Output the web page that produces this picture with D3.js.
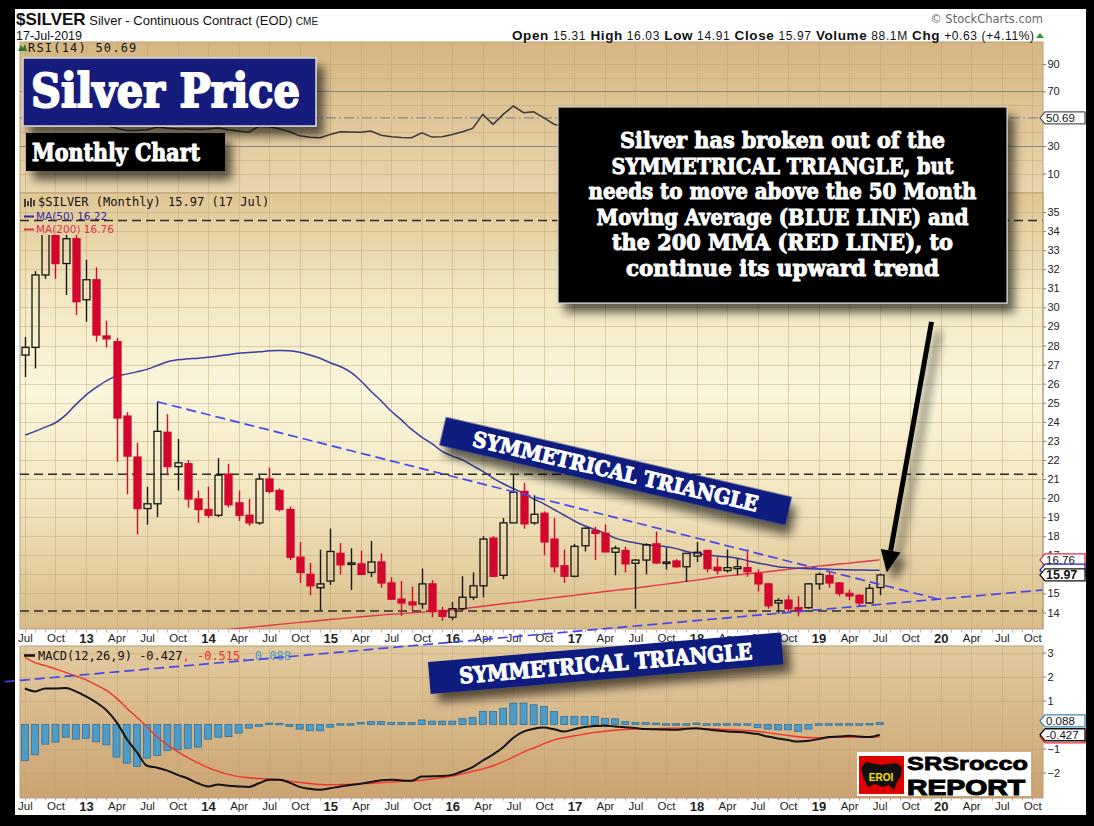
<!DOCTYPE html>
<html>
<head>
<meta charset="utf-8">
<script src="https://cdn.jsdelivr.net/npm/d3@7/dist/d3.min.js"></script>
<style>
html,body{margin:0;padding:0;background:#000;overflow:hidden}
svg{display:block}
</style>
</head>
<body>
<svg id="chart" width="1094" height="826"></svg>
<script>
// ---------------- DATA ----------------
const months = [
"2012-07","2012-08","2012-09","2012-10","2012-11","2012-12",
"2013-01","2013-02","2013-03","2013-04","2013-05","2013-06","2013-07","2013-08","2013-09","2013-10","2013-11","2013-12",
"2014-01","2014-02","2014-03","2014-04","2014-05","2014-06","2014-07","2014-08","2014-09","2014-10","2014-11","2014-12",
"2015-01","2015-02","2015-03","2015-04","2015-05","2015-06","2015-07","2015-08","2015-09","2015-10","2015-11","2015-12",
"2016-01","2016-02","2016-03","2016-04","2016-05","2016-06","2016-07","2016-08","2016-09","2016-10","2016-11","2016-12",
"2017-01","2017-02","2017-03","2017-04","2017-05","2017-06","2017-07","2017-08","2017-09","2017-10","2017-11","2017-12",
"2018-01","2018-02","2018-03","2018-04","2018-05","2018-06","2018-07","2018-08","2018-09","2018-10","2018-11","2018-12",
"2019-01","2019-02","2019-03","2019-04","2019-05","2019-06","2019-07"];

const openP = [27.5,27.9,31.7,34.6,32.3,33.6,
 30.4,31.45,28.5,28.2,24.3,22.15,19.45,19.7,23.45,21.65,21.8,19.95,
 19.4,19.1,21.25,19.75,19.1,18.7,21.0,20.4,19.4,16.9,16.0,15.3,
 15.65,17.1,16.52,16.55,16.1,16.65,15.55,14.7,14.55,14.45,15.5,14.1,
 13.75,14.2,14.8,15.4,17.9,15.95,18.7,20.35,18.7,19.2,17.85,16.45,
 15.9,17.5,18.3,18.15,17.16,17.25,16.58,16.75,17.6,16.6,16.7,16.4,
 16.96,17.25,16.37,16.2,16.3,16.35,16.05,15.5,14.5,14.65,14.25,14.25,
 15.5,15.93,15.55,15.0,14.9,14.5,15.31];
const highP = [28.45,31.9,35.0,35.4,34.4,34.0,
 32.5,32.1,29.3,28.4,24.5,22.9,20.6,25.05,24.4,23.1,22.0,20.4,
 20.6,22.1,21.8,20.4,19.95,21.2,21.6,20.5,19.55,17.7,16.6,17.3,
 18.4,17.65,17.37,17.25,17.75,17.1,15.85,15.65,15.35,16.3,15.7,14.3,
 14.55,15.9,16.1,18.0,18.0,18.95,21.2,20.8,20.15,19.3,18.95,17.3,
 17.6,18.47,18.5,18.62,17.5,17.45,16.8,17.63,18.25,17.4,16.8,17.12,
 17.7,17.3,16.9,17.3,16.84,17.31,16.25,15.55,14.75,14.9,14.85,15.55,
 16.1,16.15,15.6,15.2,14.95,15.5,16.03];
const lowP = [26.35,26.8,31.5,31.5,30.65,29.6,
 29.25,28.2,27.9,21.9,20.2,18.1,18.6,19.0,21.2,20.4,19.5,18.7,
 18.95,19.0,19.5,18.8,18.55,18.6,20.25,19.3,16.75,15.55,14.9,14.1,
 15.45,16.0,15.18,15.95,15.85,15.3,14.65,13.82,14.1,14.2,13.75,13.57,
 13.6,14.1,14.65,14.8,15.85,15.75,18.7,18.4,18.6,17.0,16.1,15.55,
 15.85,17.2,16.75,17.15,15.95,16.1,14.2,16.0,16.55,16.25,16.35,15.6,
 16.65,16.1,16.0,16.1,15.97,15.88,15.1,14.2,13.95,14.05,13.8,14.2,
 15.2,15.3,14.85,14.65,14.3,14.45,14.91];
const closeP = [27.9,31.7,34.6,32.3,33.6,30.3,
 31.45,28.55,28.35,24.2,22.2,19.45,19.7,23.5,21.65,21.85,19.95,19.4,
 19.1,21.2,19.65,19.1,18.7,21.0,20.35,19.4,16.9,16.1,15.4,15.5,
 17.2,16.5,16.6,16.0,16.65,15.55,14.7,14.5,14.4,15.5,14.05,13.8,
 14.2,14.8,15.4,17.85,15.9,18.7,20.3,18.65,19.15,17.7,16.4,15.9,
 17.47,18.42,18.15,17.18,17.37,16.55,16.75,17.55,16.6,16.65,16.4,17.1,
 17.16,16.3,16.2,16.35,16.4,16.14,15.5,14.35,14.63,14.2,14.1,15.5,
 16.0,15.55,15.0,14.87,14.5,15.27,15.97];

const ma50 = [23.3,23.5,23.72,23.95,24.35,24.9,
 25.4,25.8,26.15,26.4,26.5,26.62,26.75,26.95,27.15,27.25,27.3,27.33,
 27.38,27.45,27.52,27.59,27.63,27.67,27.72,27.74,27.73,27.65,27.5,27.33,
 27.1,26.9,26.6,26.15,25.6,25.1,24.55,24.1,23.6,23.2,22.85,22.45,
 22.2,22.0,21.7,21.4,21.05,20.75,20.5,20.25,19.95,19.7,19.4,19.1,
 18.8,18.55,18.35,18.15,17.9,17.75,17.65,17.55,17.5,17.45,17.35,17.2,
 17.1,17.02,16.96,16.92,16.85,16.72,16.6,16.5,16.4,16.35,16.32,16.3,
 16.28,16.27,16.25,16.24,16.23,16.22,16.22];
const ma200 = [null,null,null,null,null,null,
 null,null,null,null,null,null,null,null,null,null,null,null,
 13.02,13.06,13.11,13.17,13.22,13.27,13.32,13.38,13.43,13.48,13.53,13.58,
 13.63,13.68,13.73,13.78,13.82,13.86,13.9,13.94,13.98,14.02,14.06,14.1,
 14.13,14.2,14.26,14.33,14.39,14.46,14.52,14.58,14.65,14.71,14.78,14.84,
 14.9,14.97,15.03,15.1,15.16,15.22,15.28,15.35,15.42,15.49,15.56,15.63,
 15.7,15.77,15.86,15.92,15.97,16.03,16.08,16.14,16.2,16.26,16.32,16.37,
 16.43,16.48,16.54,16.59,16.65,16.7,16.76];

const rsi = [46,54,58,53,55,48,
 51,45,45,43,41.5,41.5,42,44,43,42.5,42.5,42.2,
 42.5,43.2,42,41,40.2,44.6,44.1,42.7,40.5,37.5,36.5,36.1,
 38.5,40.5,40.3,40.2,41,38,36.8,36.3,36.1,39.8,36.6,36.8,
 38.5,40.5,42.9,53.2,45.9,53.2,59.3,54.4,55.1,50.7,46,44,
 48,51,50.5,48.5,48,46.5,46.5,48.5,46.5,46.5,46,47.5,
 47.8,45.5,45.2,45.5,45.6,45,43,40.5,40.7,40,39.7,44,
 46,45,43.5,43,42,46.5,50.69];

const macdLine = [1.5,1.38,1.5,1.5,1.52,1.38,
 1.17,0.92,0.6,0.1,-0.6,-1.15,-1.72,-1.8,-1.92,-2.1,-2.25,-2.45,
 -2.58,-2.5,-2.55,-2.58,-2.6,-2.45,-2.3,-2.3,-2.42,-2.6,-2.68,-2.72,
 -2.66,-2.58,-2.52,-2.47,-2.4,-2.32,-2.3,-2.33,-2.34,-2.17,-2.16,-2.15,
 -2.1,-1.95,-1.78,-1.5,-1.25,-0.95,-0.55,-0.3,-0.18,-0.13,-0.2,-0.29,
 -0.2,-0.1,-0.06,-0.05,-0.08,-0.11,-0.15,-0.19,-0.2,-0.21,-0.22,-0.18,
 -0.16,-0.2,-0.25,-0.29,-0.31,-0.34,-0.4,-0.5,-0.58,-0.65,-0.71,-0.68,
 -0.61,-0.52,-0.5,-0.47,-0.5,-0.52,-0.427];
const signalLine = [2.8,2.58,2.45,2.32,2.17,2.02,
 1.86,1.65,1.42,1.1,0.68,0.3,-0.1,-0.52,-0.85,-1.13,-1.38,-1.6,
 -1.8,-1.95,-2.08,-2.17,-2.22,-2.25,-2.27,-2.3,-2.36,-2.41,-2.46,-2.5,
 -2.51,-2.5,-2.49,-2.47,-2.45,-2.42,-2.4,-2.37,-2.35,-2.32,-2.27,-2.22,
 -2.15,-2.06,-1.95,-1.85,-1.72,-1.55,-1.35,-1.15,-0.98,-0.8,-0.64,-0.55,
 -0.47,-0.4,-0.33,-0.28,-0.24,-0.21,-0.19,-0.18,-0.17,-0.16,-0.15,-0.16,
 -0.17,-0.18,-0.19,-0.21,-0.23,-0.25,-0.29,-0.34,-0.4,-0.46,-0.51,-0.54,
 -0.55,-0.54,-0.53,-0.53,-0.52,-0.52,-0.515];
const histogram = [-1.51,-1.26,-0.82,-0.73,-0.53,-0.61,
 -0.57,-0.72,-0.85,-1.36,-1.61,-1.75,-1.4,-1.29,-1.08,-1.05,-0.99,-0.94,
 -0.61,-0.53,-0.5,-0.36,-0.15,-0.08,0.03,0.02,-0.08,-0.19,-0.26,-0.26,
 -0.11,-0.06,0.0,0.05,0.12,0.12,0.08,0.08,0.08,0.19,0.14,0.14,
 0.14,0.24,0.29,0.54,0.54,0.68,0.89,0.89,0.82,0.75,0.54,0.33,
 0.33,0.33,0.33,0.26,0.24,0.12,0.08,0.08,0.03,-0.01,-0.01,0.0,
 0.03,0.0,-0.01,-0.03,-0.03,-0.06,-0.12,-0.19,-0.22,-0.22,-0.29,-0.19,
 -0.01,-0.03,-0.03,-0.03,-0.03,0.01,0.088];

const priceTicks = [14,15,17,18,19,20,21,22,23,24,25,26,27,28,29,30,31,32,33,34,35];
const rsiTicks = [10,30,70,90];
const macdTicks = [-2,-1,1,2,3];
const levelLines = [34.55, 21.25, 14.08];          // black dashed support/resistance
const triangleUpper = [{ym:"2013-08", dm:0, p:25.05}, {ym:"2020-01", dm:0, p:14.67}];
const triangleLower = [{ym:"2012-04", dm:-0.45, p:10.3}, {ym:"2020-10", dm:1.0, p:15.18}];
const arrowFrom = {ym:"2019-12", dm:0.1, p:29.24};
const arrowTo   = {ym:"2019-07", dm:0.7, p:16.1};
const monthNames = ["Jan","Feb","Mar","Apr","May","Jun","Jul","Aug","Sep","Oct","Nov","Dec"];
const boxLines = ["Silver has broken out of the","SYMMETRICAL TRIANGLE, but","needs to move above the 50 Month","Moving Average (BLUE LINE) and","the 200 MMA (RED LINE), to","continue its upward trend"];
const headerStats = [["Open","15.31"],["High","16.03"],["Low","14.91"],["Close","15.97"],["Volume","88.1M"],["Chg","+0.63 (+4.11%)"]];

// ---------------- LAYOUT ----------------
const PL = 20, PR = 1043;
const R_TOP = 42, R_BOT = 193, P_TOP = 193, P_BOT = 629, M_TOP = 646, M_BOT = 798;
const mIdx = s => { const [y, mo] = s.split("-").map(Number); return (y - 2013) * 12 + (mo - 1); };
const x  = d3.scaleLinear().domain([0, 84]).range([86, 86 + 84 * 10.175]);
const yP = d3.scaleLinear().domain([14, 35]).range([612.5, 612.5 - 21 * 19.07]);
const yR = d3.scaleLinear().domain([10, 90]).range([173.5, 64]);
const yM = d3.scaleLinear().domain([-2, 3]).range([772.5, 652.5]);

const data = months.map((s, i) => ({m: mIdx(s), o: openP[i], h: highP[i], l: lowP[i], c: closeP[i],
  ma50: ma50[i], ma200: ma200[i], rsi: rsi[i], macd: macdLine[i], sig: signalLine[i], hist: histogram[i]}));
const pt = d => ({X: x(mIdx(d.ym) + d.dm), Y: yP(d.p)});

const svg = d3.select("#chart");
const defs = svg.append("defs");
function lg(id, stops) {
  const g = defs.append("linearGradient").attr("id", id).attr("x1", 0).attr("y1", 0).attr("x2", 0).attr("y2", 1);
  stops.forEach(([o, c]) => g.append("stop").attr("offset", o).attr("stop-color", c));
}
lg("gRsi", [[0, "#d6b682"], [1, "#e9d6ad"]]);
lg("gPrice", [[0, "#e0c693"], [0.22, "#f1e6bf"], [0.45, "#faf6dc"], [0.7, "#f2e6bf"], [1, "#d8bb88"]]);
lg("gMacd", [[0, "#e2ca9f"], [1, "#cba372"]]);
const sh = defs.append("filter").attr("id", "shadow").attr("x", "-20%").attr("y", "-30%").attr("width", "150%").attr("height", "190%");
sh.append("feDropShadow").attr("dx", 7).attr("dy", 9).attr("stdDeviation", 5).attr("flood-color", "#000").attr("flood-opacity", 0.6);
defs.append("clipPath").attr("id", "clipPrice").append("rect").attr("x", PL).attr("y", P_TOP).attr("width", PR - PL).attr("height", P_BOT - P_TOP);
defs.append("clipPath").attr("id", "clipCandle").append("rect").attr("x", PL).attr("y", yP(33.8)).attr("width", PR - PL).attr("height", P_BOT - yP(33.8));
defs.append("clipPath").attr("id", "clipRsi").append("rect").attr("x", PL).attr("y", R_TOP).attr("width", PR - PL).attr("height", R_BOT - R_TOP);
defs.append("clipPath").attr("id", "clipMacd").append("rect").attr("x", PL).attr("y", M_TOP).attr("width", PR - PL).attr("height", M_BOT - M_TOP);

// frame
svg.append("rect").attr("width", 1094).attr("height", 826).attr("fill", "#000");
svg.append("rect").attr("x", 15).attr("y", 9).attr("width", 1071).attr("height", 806).attr("fill", "#fff");

// panels
[[R_TOP, R_BOT, "gRsi"], [P_TOP, P_BOT, "gPrice"], [M_TOP, M_BOT, "gMacd"]].forEach(([t, b, g]) => {
  svg.append("rect").attr("x", PL).attr("y", t).attr("width", PR - PL).attr("height", b - t)
    .attr("fill", `url(#${g})`).attr("stroke", "#b79f78").attr("stroke-width", 1);
});

// grids
const quarters = d3.range(-6, 94, 3);
const gridG = svg.append("g").attr("stroke", "#bfa274").attr("stroke-opacity", 0.45).attr("stroke-width", 1);
[[R_TOP, R_BOT], [P_TOP, P_BOT], [M_TOP, M_BOT]].forEach(([t, b]) => {
  gridG.selectAll(null).data(quarters).join("line")
    .attr("x1", d => Math.round(x(d)) + 0.5).attr("x2", d => Math.round(x(d)) + 0.5).attr("y1", t).attr("y2", b);
});
gridG.selectAll(null).data(d3.range(14, 36)).join("line")
  .attr("x1", PL).attr("x2", PR).attr("y1", d => Math.round(yP(d)) + 0.5).attr("y2", d => Math.round(yP(d)) + 0.5);
gridG.selectAll(null).data([10, 20, 40, 60, 80, 90]).join("line")
  .attr("x1", PL).attr("x2", PR).attr("y1", d => Math.round(yR(d)) + 0.5).attr("y2", d => Math.round(yR(d)) + 0.5);
gridG.selectAll(null).data([-3, -2, -1, 1, 2, 3]).join("line")
  .attr("x1", PL).attr("x2", PR).attr("y1", d => Math.round(yM(d)) + 0.5).attr("y2", d => Math.round(yM(d)) + 0.5);

// ---------- RSI panel ----------
const rsiG = svg.append("g").attr("clip-path", "url(#clipRsi)");
rsiG.selectAll(null).data([70, 30]).join("line").attr("x1", PL).attr("x2", PR)
  .attr("y1", d => Math.round(yR(d)) + 0.5).attr("y2", d => Math.round(yR(d)) + 0.5)
  .attr("stroke", "#868686").attr("stroke-width", 1.2);
rsiG.append("line").attr("x1", PL).attr("x2", PR).attr("y1", yR(50.69)).attr("y2", yR(50.69))
  .attr("stroke", "#8a8a8a").attr("stroke-width", 1.2).attr("stroke-dasharray", "10,3,2,3");
rsiG.append("path").datum(data).attr("fill", "none").attr("stroke", "#3a3a3a").attr("stroke-width", 1.5)
  .attr("d", d3.line().x(d => x(d.m)).y(d => yR(d.rsi)));

// ---------- Price panel ----------
const pG = svg.append("g").attr("clip-path", "url(#clipPrice)");
pG.selectAll(null).data(levelLines).join("line").attr("x1", PL).attr("x2", PR)
  .attr("y1", d => yP(d)).attr("y2", d => yP(d))
  .attr("stroke", "#2b2b2b").attr("stroke-width", 1.5).attr("stroke-dasharray", "9,5");
pG.append("path").datum(data.filter(d => d.ma200 != null)).attr("fill", "none").attr("stroke", "#e2364b").attr("stroke-width", 1.4)
  .attr("d", d3.line().x(d => x(d.m)).y(d => yP(d.ma200)));
pG.append("path").datum(data).attr("fill", "none").attr("stroke", "#3c3c9c").attr("stroke-width", 1.5)
  .attr("d", d3.line().curve(d3.curveMonotoneX).x(d => x(d.m)).y(d => yP(d.ma50)));

const cG = svg.append("g").attr("clip-path", "url(#clipCandle)");
const RED = "#d3062e", BLK = "#151515", bw = 7;
const cand = cG.selectAll("g.c").data(data).join("g").attr("class", "c");
const cx = d => Math.round(x(d.m)) + 0.5;
const col = d => d.c >= d.o ? BLK : RED;
cand.append("line").attr("x1", cx).attr("x2", cx).attr("y1", d => yP(d.h)).attr("y2", d => yP(Math.max(d.o, d.c)))
  .attr("stroke", col).attr("stroke-width", 1.4);
cand.append("line").attr("x1", cx).attr("x2", cx).attr("y1", d => yP(Math.min(d.o, d.c))).attr("y2", d => yP(d.l))
  .attr("stroke", col).attr("stroke-width", 1.4);
cand.append("rect").attr("x", d => cx(d) - bw / 2).attr("y", d => yP(Math.max(d.o, d.c)))
  .attr("width", bw).attr("height", d => Math.max(1.5, yP(Math.min(d.o, d.c)) - yP(Math.max(d.o, d.c))))
  .attr("fill", d => d.c >= d.o ? "none" : RED).attr("stroke", col).attr("stroke-width", 1.3);

// ---------- MACD panel ----------
const mG = svg.append("g").attr("clip-path", "url(#clipMacd)");
mG.selectAll("rect.h").data(data).join("rect").attr("class", "h")
  .attr("x", d => x(d.m) - 3.5).attr("width", 7)
  .attr("y", d => Math.min(yM(0), yM(d.hist)) - (Math.abs(yM(d.hist) - yM(0)) < 1.5 ? 0.75 : 0))
  .attr("height", d => Math.max(1.5, Math.abs(yM(d.hist) - yM(0))))
  .attr("fill", "#4d9cc7").attr("stroke", "#2f7099").attr("stroke-width", 0.8);
mG.append("path").datum(data).attr("fill", "none").attr("stroke", "#f2352b").attr("stroke-width", 1.4)
  .attr("d", d3.line().curve(d3.curveMonotoneX).x(d => x(d.m)).y(d => yM(d.sig)));
mG.append("path").datum(data).attr("fill", "none").attr("stroke", "#111").attr("stroke-width", 2)
  .attr("d", d3.line().curve(d3.curveMonotoneX).x(d => x(d.m)).y(d => yM(d.macd)));

// ---------- axes ----------
const isYear = m => ((m % 12) + 12) % 12 === 0;
const fmtM = m => isYear(m) ? String(2013 + Math.floor(m / 12)).slice(2) : monthNames[((m % 12) + 12) % 12];
function xAxis(y0) {
  const g = svg.append("g").attr("transform", `translate(0,${y0})`)
    .call(d3.axisBottom(x).tickValues(quarters).tickFormat(fmtM).tickSize(0).tickPadding(3));
  g.select(".domain").remove();
  g.selectAll("text").attr("font-family", "Liberation Sans, Arial, sans-serif").attr("fill", "#222")
    .attr("font-weight", d => isYear(d) ? "bold" : "normal").attr("font-size", d => isYear(d) ? 13 : 11.5);
  svg.append("g").selectAll(null).data(d3.range(-6, 94)).join("line")
    .attr("x1", d => Math.round(x(d)) + 0.5).attr("x2", d => Math.round(x(d)) + 0.5)
    .attr("y1", y0 - 1).attr("y2", y0 + 1.5).attr("stroke", "#c7a0a0").attr("stroke-width", 1);
}
xAxis(P_BOT + 2);
xAxis(M_BOT + 1);

function yAxis(scale, ticks) {
  const g = svg.append("g").attr("transform", `translate(${PR},0)`)
    .call(d3.axisRight(scale).tickValues(ticks).tickSize(3).tickPadding(1.5).tickFormat(d3.format("d")));
  g.select(".domain").remove();
  g.selectAll("line").attr("stroke", "#777");
  g.selectAll("text").attr("font-family", "Liberation Sans, Arial, sans-serif").attr("font-size", 11).attr("fill", "#222");
}
yAxis(yP, priceTicks);
yAxis(yR, rsiTicks);
yAxis(yM, macdTicks);
svg.append("line").attr("x1", PR).attr("x2", PR).attr("y1", P_TOP).attr("y2", P_BOT).attr("stroke", "#b79f78");

function tag(y, txt, stroke, bold) {
  const g = svg.append("g");
  const x0 = PR - 3, w = 40, h = 12;
  g.append("path").attr("d", `M${x0},${y} L${x0 + 5},${y - h / 2} L${x0 + 5 + w},${y - h / 2} L${x0 + 5 + w},${y + h / 2} L${x0 + 5},${y + h / 2} Z`)
    .attr("fill", "#fff").attr("stroke", stroke).attr("stroke-width", 1.3);
  if (txt) g.append("text").attr("x", x0 + 6).attr("y", y + 4.2).text(txt)
    .attr("font-family", "Liberation Sans, Arial, sans-serif").attr("font-size", bold ? 12.5 : 11.5)
    .attr("font-weight", bold ? "bold" : "normal").attr("fill", "#111");
}
tag(yR(50.69), "50.69", "#555", false);
tag(yP(16.76), "16.76", "#e0304a", false);
tag(yP(16.22), "", "#2424a8", false);      // MA(50) tag, hidden under the close tag in the reference
tag(yP(15.97), "15.97", "#111", true);
tag(yM(-0.515), "", "#ee2a2a", false);     // signal tag, hidden under the MACD tag in the reference
tag(yM(0.088) - 1.5, "0.088", "#3a86b8", false);
tag(yM(-0.427), "-0.427", "#111", false);

// ---------- header & legends ----------
const SANS = "Liberation Sans, Arial, sans-serif", MONO = "DejaVu Sans Mono, monospace";
const h1 = svg.append("text").attr("x", 16).attr("y", 25).attr("font-family", SANS).attr("fill", "#111");
h1.append("tspan").text("$SILVER").attr("font-weight", "bold").attr("font-size", 17);
h1.append("tspan").text(" Silver - Continuous Contract (EOD) ").attr("font-size", 13);
h1.append("tspan").text("CME").attr("font-size", 10);
svg.append("text").attr("x", 16).attr("y", 39.5).attr("font-family", SANS).attr("font-size", 12.5).attr("fill", "#111").text("17-Jul-2019");
svg.append("text").attr("x", 1043).attr("y", 23).attr("text-anchor", "end").attr("font-family", "DejaVu Sans, sans-serif")
  .attr("font-size", 11.5).attr("fill", "#666").text("© StockCharts.com");
const h2 = svg.append("text").attr("x", 512).attr("y", 39.5).attr("font-family", SANS).attr("fill", "#111")
  .attr("textLength", 522).attr("lengthAdjust", "spacing");
headerStats.forEach(([k, v], i) => {
  h2.append("tspan").text((i ? " " : "") + k).attr("font-weight", "bold").attr("font-size", 13.5);
  h2.append("tspan").text(" " + v).attr("font-size", 12);
});
svg.append("path").attr("d", "M1036,38 L1040,33 L1044,38 Z").attr("fill", "#2a9a2a");

svg.append("path").attr("d", "M18,51 L21,45 L23,48 L25,44 L27,51 Z").attr("fill", "#2c7a2c");
svg.append("text").attr("x", 28).attr("y", 51.5).attr("font-family", MONO).attr("font-size", 12).attr("letter-spacing", 1.2)
  .attr("fill", "#111").text("RSI(14) 50.69");

svg.append("path").attr("d", "M25,199 v8 M28,201 v5 M31,198 v9 M34,200 v6").attr("stroke", "#222").attr("stroke-width", 1.6);
svg.append("text").attr("x", 38).attr("y", 206).attr("font-family", MONO).attr("font-size", 12).attr("fill", "#111")
  .text("$SILVER (Monthly) 15.97 (17 Jul)");
svg.append("line").attr("x1", 24).attr("x2", 34).attr("y1", 216.5).attr("y2", 216.5).attr("stroke", "#2a2aa0").attr("stroke-width", 2);
svg.append("text").attr("x", 36).attr("y", 220).attr("font-family", "DejaVu Sans, sans-serif").attr("font-size", 10.5).attr("fill", "#2a2aa0").text("MA(50) 16.22");
svg.append("line").attr("x1", 24).attr("x2", 34).attr("y1", 229.5).attr("y2", 229.5).attr("stroke", "#e0304a").attr("stroke-width", 2);
svg.append("text").attr("x", 36).attr("y", 233).attr("font-family", "DejaVu Sans, sans-serif").attr("font-size", 10.5).attr("fill", "#e0304a").text("MA(200) 16.76");

svg.append("line").attr("x1", 24).attr("x2", 35).attr("y1", 655.5).attr("y2", 655.5).attr("stroke", "#111").attr("stroke-width", 2.5);
const ml = svg.append("text").attr("x", 38).attr("y", 660).attr("font-family", MONO).attr("font-size", 12);
ml.append("tspan").text("MACD(12,26,9) -0.427").attr("fill", "#111");
ml.append("tspan").text(", -0.515").attr("fill", "#f0302a");
ml.append("tspan").text(", 0.088").attr("fill", "#4a98c8");

// ---------- triangle trendlines ----------
[triangleUpper, triangleLower].forEach(seg => {
  const a = pt(seg[0]), b = pt(seg[1]);
  svg.append("line").attr("x1", a.X).attr("y1", a.Y).attr("x2", b.X).attr("y2", b.Y)
    .attr("stroke", "#4646f0").attr("stroke-width", 1.7).attr("stroke-dasharray", "10,5");
});

// ---------- annotations ----------
const SERIF = "DejaVu Serif, serif";
function fitText(g, tx, ty, txt, size, len, anchor, sw) {
  return g.append("text").attr("x", tx).attr("y", ty).attr("text-anchor", anchor || "start").text(txt)
    .attr("font-family", SERIF).attr("font-weight", "bold").attr("font-size", size).attr("fill", "#fff")
    .attr("stroke", "#fff").attr("stroke-width", sw || 0.9).attr("stroke-linejoin", "round")
    .attr("textLength", len).attr("lengthAdjust", "spacingAndGlyphs");
}
// Silver Price box
svg.append("rect").attr("x", 23).attr("y", 58).attr("width", 293).attr("height", 68).attr("fill", "#121a7c")
  .attr("stroke", "#d8d8d8").attr("stroke-width", 1.5).attr("filter", "url(#shadow)");
fitText(svg, 31, 107, "Silver Price", 46, 269, "start", 2);
// Monthly Chart box
svg.append("rect").attr("x", 26).attr("y", 133).attr("width", 199).attr("height", 38).attr("fill", "#000").attr("filter", "url(#shadow)");
fitText(svg, 32, 161, "Monthly Chart", 24, 168, "start", 1.1);
// big note box
svg.append("rect").attr("x", 558).attr("y", 107).attr("width", 449).attr("height", 196).attr("fill", "#000")
  .attr("stroke", "#cfcfcf").attr("stroke-width", 1.2).attr("filter", "url(#shadow)");
const lineW = [325, 342, 388, 372, 341, 313];
boxLines.forEach((t, i) => fitText(svg, 782.5, 148 + i * 25.5, t, 22, lineW[i], "middle", 1));

// banners
function banner(cxp, cyp, ang, w, h, size, len) {
  const g = svg.append("g").attr("transform", `translate(${cxp},${cyp}) rotate(${ang})`);
  g.append("rect").attr("x", -w / 2).attr("y", -h / 2).attr("width", w).attr("height", h).attr("fill", "#111f7e").attr("filter", "url(#shadow)");
  fitText(g, 0, size * 0.37, "SYMMETRICAL TRIANGLE", size, len, "middle", 1.1);
}
banner(615.6, 471.1, 13, 355, 29, 21, 292);
banner(605.7, 663.2, -4.8, 354, 32, 22, 294);

// arrow
(() => {
  const a = pt(arrowFrom), b = pt(arrowTo);
  const dx = b.X - a.X, dy = b.Y - a.Y, L = Math.hypot(dx, dy), ux = dx / L, uy = dy / L, nx = -uy, ny = ux;
  const hl = 22, hw = 10, bx = b.X - ux * hl, by = b.Y - uy * hl;
  const g = svg.append("g").attr("filter", "url(#shadow)");
  g.append("line").attr("x1", a.X).attr("y1", a.Y).attr("x2", bx).attr("y2", by).attr("stroke", "#000").attr("stroke-width", 5);
  g.append("path").attr("d", `M${b.X},${b.Y} L${bx + nx * hw},${by + ny * hw} L${bx - nx * hw},${by - ny * hw} Z`).attr("fill", "#000");
})();

// logo
const lgG = svg.append("g");
lgG.append("rect").attr("x", 857).attr("y", 752).attr("width", 174).attr("height", 44).attr("fill", "#fff");
lgG.append("rect").attr("x", 859).attr("y", 756).attr("width", 45).attr("height", 38).attr("fill", "#e00000");
lgG.append("path").attr("d", "M861,768 L866,762 L881,765 L896,763 L902,767 L901,776 L897,782 L894,790 L889,785 L882,787 L875,784 L868,787 L864,779 Z").attr("fill", "#111");
lgG.append("text").attr("x", 881).attr("y", 781).attr("text-anchor", "middle").attr("font-family", SANS).attr("font-weight", "bold")
  .attr("font-size", 10).attr("fill", "#ffe600").text("EROI");
lgG.append("text").attr("x", 907).attr("y", 770).attr("font-family", SANS).attr("font-weight", "bold").attr("font-size", 19)
  .attr("fill", "#000").attr("stroke", "#000").attr("stroke-width", 0.8)
  .attr("textLength", 121).attr("lengthAdjust", "spacingAndGlyphs").text("SRSrocco");
lgG.append("text").attr("x", 907).attr("y", 794.5).attr("font-family", SANS).attr("font-weight", "bold").attr("font-size", 22)
  .attr("fill", "#000").attr("stroke", "#000").attr("stroke-width", 1.1)
  .attr("textLength", 118).attr("lengthAdjust", "spacingAndGlyphs").text("REPORT");
</script>
</body>
</html>
